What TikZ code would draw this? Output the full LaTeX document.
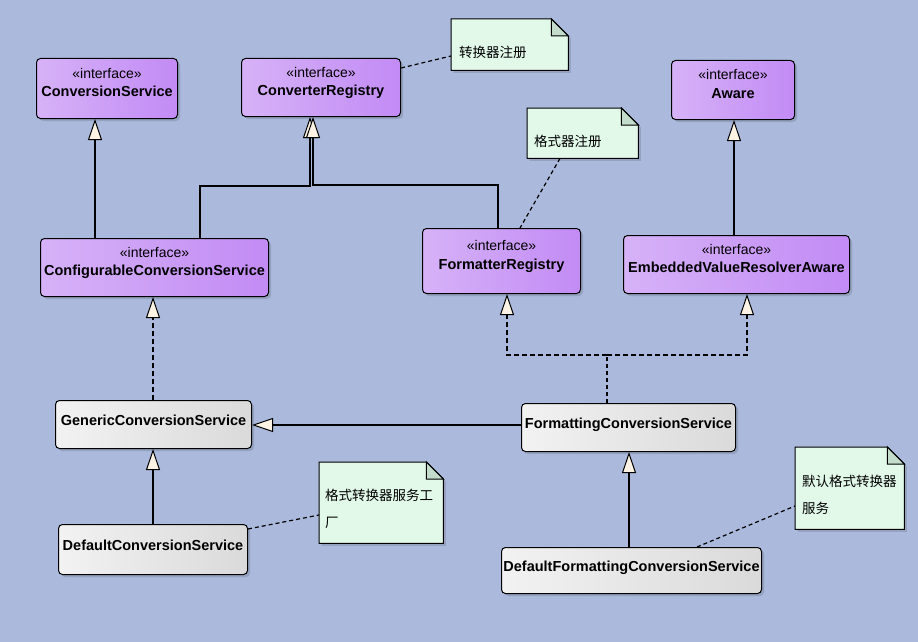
\documentclass[tikz,border=0pt]{standalone}
\usepackage{fontspec}
\setmainfont{Liberation Sans}
\newfontfamily\cjk{Noto Sans CJK SC}
\usetikzlibrary{arrows.meta,shadows}
\definecolor{bg}{HTML}{AAB9DC}
\definecolor{ifL}{HTML}{D6B2F7}
\definecolor{ifM}{HTML}{E4CAFA}
\definecolor{ifR}{HTML}{C28BF5}
\definecolor{clL}{HTML}{F2F2F2}
\definecolor{clR}{HTML}{DADADA}
\definecolor{notefill}{HTML}{E2F9EA}
\definecolor{foldfill}{HTML}{C3DCCB}
\definecolor{tri}{HTML}{FCF3E4}
\newcommand\drawnote[1]{%
  \filldraw[notebody] (#1.north west) -- ([xshift=-17pt]#1.north east) -- ([yshift=-17pt]#1.north east) -- (#1.south east) -- (#1.south west) -- cycle;
  \filldraw[notefold] ([xshift=-17pt]#1.north east) -- ([xshift=-17pt,yshift=-17pt]#1.north east) -- ([yshift=-17pt]#1.north east) -- cycle;}
\newcommand\iname[1]{{\fontsize{14.5pt}{18pt}\selectfont\bfseries #1}}
\begin{document}
\begin{tikzpicture}[x=1pt,y=-1pt,
  shad/.style={drop shadow={shadow xshift=2.5pt,shadow yshift=-2.5pt,fill=black,opacity=0.13}},
  iface/.style={draw=black,line width=1pt,rounded corners=4pt,left color=ifL,middle color=ifM,right color=ifR,
    anchor=north west,inner sep=0pt,align=center,text depth=12pt,font=\fontsize{14pt}{18.5pt}\selectfont,shad},
  cls/.style={draw=black,line width=1pt,rounded corners=4pt,left color=clL,middle color=white,right color=clR,
    anchor=north west,inner sep=0pt,align=center,text depth=8pt,font=\fontsize{14.5pt}{18pt}\selectfont\bfseries,shad},
  notearea/.style={anchor=north west,inner sep=0pt},
  notebody/.style={draw=black,line width=1pt,fill=notefill,shad},
  notefold/.style={draw=black,line width=1pt,fill=foldfill},
  notetext/.style={anchor=west,inner sep=0pt,font=\fontsize{13.5pt}{16pt}\selectfont\cjk},
  inh/.style={line width=1.2pt,-{Triangle[length=21pt,width=14pt,fill=tri,line width=1pt]}},
  real/.style={inh,dash pattern=on 5pt off 3pt},
  notelink/.style={line width=1.2pt,dash pattern=on 4pt off 3pt}]
\fill[bg] (0,0) rectangle (918,642);
\useasboundingbox (0,0) rectangle (918,642);

% interfaces
\node[iface,minimum width=141pt,minimum height=60pt] (cs) at (36,58) {«interface»\\\iname{ConversionService}};
\node[iface,minimum width=159pt,minimum height=58pt] (cr) at (241,58) {«interface»\\\iname{ConverterRegistry}};
\node[iface,minimum width=123pt,minimum height=59pt] (aw) at (671,60) {«interface»\\\iname{Aware}};
\node[iface,minimum width=228pt,minimum height=58pt] (ccs) at (40,238) {«interface»\\\iname{ConfigurableConversionService}};
\node[iface,minimum width=158pt,minimum height=65pt] (fr) at (422,228) {«interface»\\\iname{FormatterRegistry}};
\node[iface,minimum width=226pt,minimum height=58pt] (evra) at (623,235) {«interface»\\\iname{EmbeddedValueResolverAware}};

% classes
\node[cls,minimum width=196pt,minimum height=48pt] (gcs) at (55,400) {GenericConversionService};
\node[cls,minimum width=214pt,minimum height=48pt] (fcs) at (521,403) {FormattingConversionService};
\node[cls,minimum width=189pt,minimum height=50pt] (dcs) at (58,524) {DefaultConversionService};
\node[cls,minimum width=260pt,minimum height=46pt] (dfcs) at (501,547) {DefaultFormattingConversionService};

% notes
\node[notearea,minimum width=117pt,minimum height=51pt] (n1) at (451,19) {};
\node[notearea,minimum width=111pt,minimum height=50pt] (n2) at (527,108) {};
\node[notearea,minimum width=124pt,minimum height=81pt] (n3) at (319,462) {};
\node[notearea,minimum width=109pt,minimum height=82pt] (n4) at (795,447) {};
\drawnote{n1}\drawnote{n2}\drawnote{n3}\drawnote{n4}
\node[notetext] (t1) at (459,52) {转换器注册};
\node[notetext] (t2) at (534,141) {格式器注册};
\node[notetext] (t3a) at (325,495) {格式转换器服务工};
\node[notetext] (t3b) at (325,523) {厂};
\node[notetext] (t4a) at (802,481) {默认格式转换器};
\node[notetext] (t4b) at (802,508) {服务};

% helper coordinates
\coordinate (a1) at (95,0);
\coordinate (a2) at (200,0);
\coordinate (a3) at (498,0);
\coordinate (a4) at (734,0);
\coordinate (a5) at (153,0);
\coordinate (a6) at (507,0);
\coordinate (a7) at (747,0);
\coordinate (a8) at (0,425);
\coordinate (a9) at (629,0);
\coordinate (j1) at (310,186);
\coordinate (j2) at (313,185);
\coordinate (j3) at (607,355);

% generalizations
\draw[inh] (ccs.north -| a1) -- (cs.south -| a1);
\draw[inh] (ccs.north -| a2) |- (j1) -- (cr.south -| j1);
\draw[inh] (fr.north -| a3) |- (j2) -- (cr.south -| j2);
\draw[inh] (evra.north -| a4) -- (aw.south -| a4);
\draw[inh] (dcs.north -| a5) -- (gcs.south -| a5);
\draw[inh] (fcs.west |- a8) -- (gcs.east |- a8);
\draw[inh] (dfcs.north -| a9) -- (fcs.south -| a9);

% realizations
\draw[real] (gcs.north -| a5) -- (ccs.south -| a5);
\draw[notelink] (fcs.north -| j3) -- (j3);
\draw[real] (j3) -| (fr.south -| a6);
\draw[real] (j3) -| (evra.south -| a7);

% note links
\coordinate (b1) at (0,68);
\coordinate (b2) at (0,56);
\coordinate (b3) at (560,0);
\coordinate (b4) at (520,0);
\coordinate (b5) at (0,529);
\coordinate (b6) at (0,515);
\coordinate (b7) at (697,0);
\coordinate (b8) at (0,506);
\draw[notelink] (cr.east |- b1) -- (n1.west |- b2);
\draw[notelink] (n2.south -| b3) -- (fr.north -| b4);
\draw[notelink] (dcs.east |- b5) -- (n3.west |- b6);
\draw[notelink] (dfcs.north -| b7) -- (n4.west |- b8);
\end{tikzpicture}
\end{document}
